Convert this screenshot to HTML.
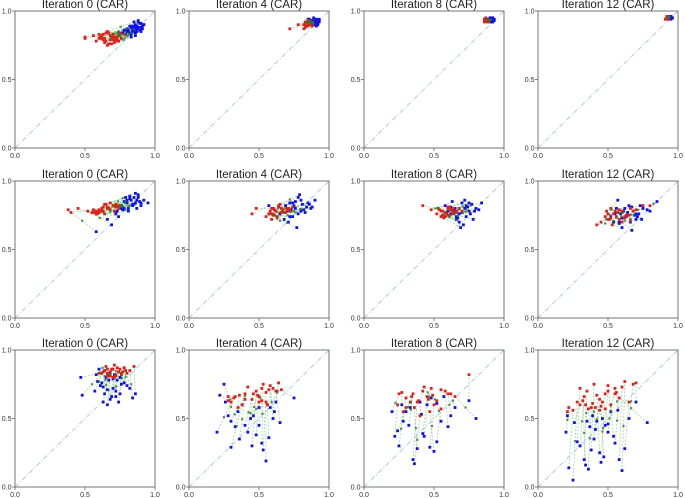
<!DOCTYPE html>
<html><head><meta charset="utf-8"><style>
html,body{margin:0;padding:0;background:#fff;}
svg{display:block;font-family:"Liberation Sans",sans-serif;}
</style></head><body>
<svg id="chart" width="685" height="498" viewBox="0 0 685 498"></svg>
<script>
const titles = ["Iteration 0 (CAR)","Iteration 4 (CAR)","Iteration 8 (CAR)","Iteration 12 (CAR)"];
const tickValues = [0, 0.5, 1];
const tickLabels = ["0.0","0.5","1.0"];
// panel data: blue x/y, red x/y (paired)
const p11bx=[.86,.88,.84,.90,.82,.87,.79,.91,.85,.83,.89,.80,.86,.77,.92,.84,.88,.81,.87,.85,.90,.83,.82,.89,.86,.91,.84,.88,.80,.85,.87,.83,.90,.78,.86,.92];
const p11by=[.90,.88,.86,.91,.84,.87,.83,.89,.92,.88,.86,.85,.82,.84,.90,.89,.93,.86,.85,.87,.88,.83,.89,.91,.84,.87,.85,.92,.87,.86,.89,.81,.85,.86,.88,.90];
const p11rx=[.62,.68,.65,.72,.60,.70,.58,.75,.66,.64,.73,.56,.69,.50,.78,.67,.71,.63,.74,.61,.76,.50,.66,.70,.64,.73,.62,.68,.71,.65,.60,.74,.67,.69,.72,.63];
const p11ry=[.80,.82,.78,.81,.83,.79,.78,.84,.85,.77,.80,.82,.76,.80,.83,.84,.81,.79,.78,.81,.80,.81,.75,.83,.80,.78,.82,.79,.77,.84,.80,.82,.76,.81,.79,.83];
const p12bx=[.88,.91,.86,.93,.89,.90,.87,.92,.85,.91,.89,.93,.88,.90,.87,.92,.86,.90,.93,.89,.91,.88];
const p12by=[.93,.92,.91,.94,.90,.92,.93,.91,.94,.89,.95,.92,.90,.93,.92,.90,.94,.91,.93,.92,.94,.90];
const p12rx=[.84,.86,.83,.88,.85,.72,.82,.87,.84,.86,.83,.78,.85,.82,.86,.84,.83,.87,.85,.84,.86,.88];
const p12ry=[.91,.90,.92,.89,.93,.87,.90,.91,.89,.92,.88,.90,.91,.87,.93,.90,.91,.92,.89,.92,.90,.91];
const p13bx=[.90,.92,.91,.93,.89,.92,.90,.91,.93,.92,.91,.90,.92];
const p13by=[.94,.93,.95,.94,.93,.92,.95,.94,.93,.95,.92,.93,.94];
const p13rx=[.87,.88,.86,.89,.87,.88,.86,.89,.88,.87,.88,.87,.89];
const p13ry=[.93,.94,.92,.93,.95,.93,.94,.92,.94,.93,.92,.94,.93];
const p14bx=[.94,.95,.96,.95,.94,.96,.95,.93];
const p14by=[.95,.96,.95,.94,.96,.95,.96,.95];
const p14rx=[.92,.93,.92,.93,.91,.93,.92,.93];
const p14ry=[.95,.94,.96,.95,.94,.96,.95,.94];
const p21bx=[.80,.85,.78,.88,.72,.83,.90,.76,.86,.81,.69,.92,.84,.74,.58,.79,.87,.66,.82,.89,.77,.95,.84,.80,.88,.76,.86,.82,.90,.78,.85,.73,.87,.81];
const p21by=[.84,.88,.80,.90,.76,.86,.84,.82,.91,.78,.68,.86,.83,.74,.63,.88,.80,.72,.87,.85,.79,.84,.82,.86,.88,.80,.84,.89,.82,.85,.83,.78,.86,.80];
const p21rx=[.62,.70,.58,.72,.55,.66,.74,.60,.68,.64,.52,.75,.67,.57,.38,.63,.71,.45,.65,.73,.59,.40,.66,.62,.70,.58,.68,.64,.72,.60,.66,.56,.70,.63];
const p21ry=[.80,.82,.78,.83,.77,.81,.80,.79,.84,.76,.78,.82,.80,.77,.79,.81,.78,.80,.83,.82,.76,.77,.80,.78,.82,.76,.79,.83,.81,.77,.80,.79,.82,.78];
const p22bx=[.75,.80,.70,.85,.65,.78,.88,.72,.82,.60,.77,.90,.68,.74,.83,.57,.79,.86,.71,.76,.73,.81,.78,.84,.69,.76,.80,.74,.87,.72];
const p22by=[.82,.86,.78,.84,.76,.88,.81,.74,.79,.80,.66,.86,.72,.84,.77,.82,.90,.83,.70,.80,.79,.83,.76,.81,.82,.85,.78,.74,.80,.84];
const p22rx=[.62,.66,.58,.70,.55,.64,.72,.60,.68,.48,.63,.74,.57,.61,.69,.45,.65,.71,.59,.62,.60,.67,.63,.70,.58,.64,.66,.61,.72,.59];
const p22ry=[.78,.80,.76,.79,.74,.82,.78,.75,.77,.80,.73,.81,.76,.79,.77,.76,.83,.80,.72,.78,.76,.79,.74,.80,.78,.81,.77,.75,.79,.80];
const p23bx=[.65,.70,.62,.75,.58,.68,.80,.72,.66,.78,.60,.73,.84,.69,.76,.63,.71,.82,.67,.74,.70,.64,.77,.68,.73,.62,.79,.66,.72,.75];
const p23by=[.80,.84,.76,.78,.82,.70,.80,.86,.74,.72,.78,.82,.84,.66,.76,.85,.68,.79,.73,.81,.77,.79,.83,.76,.74,.81,.78,.72,.80,.84];
const p23rx=[.55,.60,.52,.63,.48,.58,.66,.61,.56,.64,.42,.62,.68,.57,.65,.53,.60,.70,.55,.62,.59,.56,.64,.58,.61,.54,.66,.57,.63,.60];
const p23ry=[.78,.80,.76,.77,.79,.74,.78,.81,.75,.76,.82,.79,.80,.73,.77,.80,.75,.78,.74,.79,.76,.78,.80,.77,.75,.79,.77,.74,.78,.81];
const p24bx=[.55,.62,.58,.68,.52,.65,.72,.60,.75,.57,.70,.80,.63,.67,.54,.73,.85,.59,.66,.71,.61,.69,.56,.74,.64,.78,.60,.67,.70,.58];
const p24by=[.76,.80,.70,.78,.74,.82,.76,.66,.80,.86,.72,.78,.74,.64,.70,.82,.85,.76,.70,.74,.78,.75,.80,.72,.77,.79,.73,.81,.76,.69];
const p24rx=[.48,.55,.50,.60,.45,.58,.65,.53,.68,.52,.62,.75,.56,.60,.42,.66,.80,.50,.58,.64,.54,.62,.49,.66,.57,.70,.52,.60,.63,.51];
const p24ry=[.74,.78,.72,.77,.70,.79,.75,.68,.78,.80,.73,.82,.74,.70,.68,.80,.82,.76,.72,.75,.76,.74,.78,.71,.77,.79,.73,.78,.75,.72];
const p31bx=[.65,.70,.62,.75,.58,.68,.80,.72,.66,.47,.60,.73,.84,.69,.76,.63,.71,.82,.67,.74,.57,.78,.64,.86,.48,.61,.70,.66,.75,.59,.72,.68,.63];
const p31by=[.80,.72,.76,.68,.82,.64,.74,.70,.60,.80,.86,.78,.65,.66,.75,.62,.82,.72,.78,.62,.70,.76,.68,.68,.67,.74,.79,.71,.80,.77,.66,.84,.73];
const p31rx=[.68,.72,.66,.76,.64,.70,.78,.74,.68,.60,.65,.75,.82,.71,.77,.67,.73,.80,.69,.76,.63,.79,.66,.85,.62,.70,.74,.68,.78,.64,.72,.71,.66];
const p31ry=[.84,.82,.86,.83,.85,.80,.87,.84,.81,.83,.88,.86,.85,.80,.84,.82,.87,.83,.86,.82,.84,.85,.81,.88,.83,.86,.84,.82,.87,.85,.81,.89,.83];
const p32bx=[.20,.25,.30,.35,.40,.45,.50,.55,.60,.65,.28,.33,.38,.48,.52,.57,.62,.22,.42,.56,.46,.75,.30,.53,.36,.58,.44,.50,.26,.61];
const p32by=[.40,.75,.29,.55,.45,.30,.58,.19,.50,.47,.52,.44,.60,.38,.32,.36,.62,.67,.40,.60,.52,.65,.48,.27,.35,.58,.50,.45,.62,.55];
const p32rx=[.30,.28,.38,.40,.45,.48,.52,.55,.58,.62,.32,.36,.42,.50,.53,.56,.64,.28,.46,.60,.50,.66,.35,.55,.40,.63,.49,.52,.33,.57];
const p32ry=[.62,.66,.60,.68,.64,.70,.72,.62,.74,.70,.65,.67,.73,.66,.75,.60,.76,.63,.68,.72,.62,.71,.58,.69,.64,.70,.67,.63,.66,.71];
const p33bx=[.20,.22,.25,.28,.32,.35,.38,.42,.45,.50,.55,.60,.65,.75,.80,.24,.30,.40,.47,.52,.36,.43,.62,.27,.48,.57,.33,.41,.52];
const p33by=[.55,.37,.30,.48,.45,.20,.28,.39,.60,.26,.48,.44,.58,.63,.50,.41,.55,.62,.29,.33,.17,.37,.52,.60,.65,.66,.58,.53,.61];
const p33rx=[.25,.24,.28,.30,.35,.38,.36,.45,.48,.47,.52,.58,.62,.75,.65,.30,.33,.42,.50,.55,.40,.46,.60,.27,.43,.55,.34,.39,.49];
const p33ry=[.68,.60,.55,.65,.68,.62,.58,.66,.72,.55,.63,.70,.68,.82,.66,.58,.62,.70,.60,.57,.52,.64,.68,.69,.73,.71,.66,.63,.67];
const p34bx=[.20,.22,.25,.26,.30,.33,.36,.38,.40,.42,.45,.48,.50,.52,.55,.58,.60,.62,.65,.70,.78,.21,.34,.44,.54,.37,.47,.28,.57,.41,.39,.46,.35,.50];
const p34by=[.40,.14,.05,.47,.30,.20,.13,.27,.35,.48,.18,.45,.40,.55,.32,.20,.12,.28,.50,.62,.47,.52,.16,.25,.37,.44,.22,.33,.56,.42,.52,.50,.48,.46];
const p34rx=[.22,.25,.28,.30,.33,.35,.38,.40,.44,.46,.48,.50,.52,.55,.58,.60,.62,.65,.68,.70,.55,.21,.32,.42,.50,.36,.45,.30,.56,.39,.41,.44,.34,.48];
const p34ry=[.58,.56,.62,.60,.66,.70,.58,.75,.64,.62,.68,.70,.60,.72,.65,.73,.77,.62,.75,.76,.68,.55,.63,.67,.74,.57,.59,.72,.69,.61,.58,.56,.60,.57];

const panels=[
 [[p11bx,p11by,p11rx,p11ry],[p12bx,p12by,p12rx,p12ry],[p13bx,p13by,p13rx,p13ry],[p14bx,p14by,p14rx,p14ry]],
 [[p21bx,p21by,p21rx,p21ry],[p22bx,p22by,p22rx,p22ry],[p23bx,p23by,p23rx,p23ry],[p24bx,p24by,p24rx,p24ry]],
 [[p31bx,p31by,p31rx,p31ry],[p32bx,p32by,p32rx,p32ry],[p33bx,p33by,p33rx,p33ry],[p34bx,p34by,p34rx,p34ry]]
];
const lefts=[15,189,364,538], tops=[11,181,350], W=140, H=137;
const NS="http://www.w3.org/2000/svg";
const svg=document.getElementById('chart');
function mk(tag,attrs,parent){const e=document.createElementNS(NS,tag);for(const k in attrs)e.setAttribute(k,attrs[k]);parent.appendChild(e);return e;}
panels.forEach((row,r)=>row.forEach((d,c)=>{
  const L=lefts[c],T=tops[r];
  const sx=v=>L+v*W, sy=v=>T+H-v*H;
  const g=mk('g',{},svg);
  
  
  const t=mk('text',{x:L+W/2,y:T-3,'text-anchor':'middle','font-size':'11.5',fill:'#222'},g);
  t.textContent=titles[c];
  
  
  const diag=mk('line',{x1:sx(0),y1:sy(0),x2:sx(1),y2:sy(1),stroke:'#a9cde8','stroke-width':1,'stroke-dasharray':'5,2,1,2'},g);
  
  
  const [bx,by,rx,ry]=d;
  bx.forEach((v,i)=>{
    const ln=mk('line',{x1:sx(bx[i]),y1:sy(by[i]),x2:sx(rx[i]),y2:sy(ry[i]),stroke:'#7cc47c','stroke-width':0.8,'stroke-dasharray':'2,1.5',opacity:0.7},g);
    
    
  });
  bx.forEach((v,i)=>{
    const p=mk('rect',{x:sx(bx[i])-1.4,y:sy(by[i])-1.4,width:2.8,height:2.8,fill:'#1010ee'},g);
    
    
  });
  rx.forEach((v,i)=>{
    const p=mk('rect',{x:sx(rx[i])-1.4,y:sy(ry[i])-1.4,width:2.8,height:2.8,fill:'#e0201a'},g);
    
    
  });
  bx.forEach((v,i)=>{
    if(i%2) return;
    const p=mk('rect',{x:sx((bx[i]+rx[i])/2)-1.1,y:sy((by[i]+ry[i])/2)-1.1,width:2.2,height:2.2,fill:'#2a7a2a',opacity:0.8},g);
    
    
  });
  const fr=mk('rect',{x:L,y:T,width:W,height:H,fill:'none',stroke:'#666','stroke-width':0.9},g);
  
  
  tickValues.forEach((v,i)=>{
    mk('line',{x1:sx(v),y1:T+H,x2:sx(v),y2:T+H+3,stroke:'#666','stroke-width':0.8},g);
    mk('line',{x1:L-3,y1:sy(v),x2:L,y2:sy(v),stroke:'#666','stroke-width':0.8},g);
    const xl=mk('text',{x:sx(v),y:T+H+10,'text-anchor':'middle','font-size':'7',fill:'#333'},g);
    xl.textContent=tickLabels[i];
    
    
    const yl=mk('text',{x:L-3.5,y:sy(v)+2.5,'text-anchor':'end','font-size':'7',fill:'#333'},g);
    yl.textContent=tickLabels[i];
    
    
  });
}));
</script>
</body></html>
